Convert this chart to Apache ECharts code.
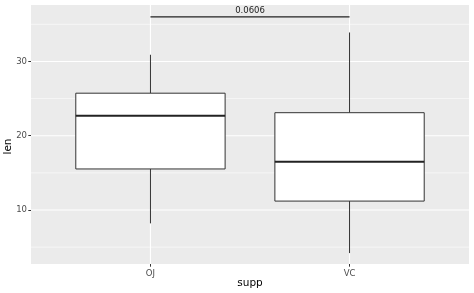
<!DOCTYPE html>
<html><head><meta charset="utf-8">
<script src="https://cdn.jsdelivr.net/npm/echarts@6/dist/echarts.min.js"></script>
<style>html,body{margin:0;padding:0;background:#fff}#c{width:474px;height:293px}</style>
</head><body><div id="c"></div>
<script>
var categories = ['OJ', 'VC'];
var whiskerLow = [8.2, 4.2];
var q1 = [15.525, 11.2];
var median = [22.7, 16.5];
var q3 = [25.725, 23.1];
var whiskerHigh = [30.9, 33.9];
var yMajorTicks = [10, 20, 30];
var yMinorTicks = [5, 15, 25, 35];
var pLabel = '0.0606';
var bracketY = 36.0;
var xTitle = 'supp';
var yTitle = 'len';

var FONT = 'DejaVu Sans';
var boxData = categories.map(function (c, i) {
  return [i + 1, whiskerLow[i], q1[i], median[i], q3[i], whiskerHigh[i]];
});
var xPositions = categories.map(function (c, i) { return i + 1; });

var chart = echarts.init(document.getElementById('c'), null, {renderer: 'canvas'});
chart.setOption({
  animation: false,
  grid: {left: 31, top: 5, right: 5, bottom: 29, show: true, backgroundColor: '#EBEBEB', borderWidth: 0,
    containLabel: false, outerBoundsMode: 'none'},
  graphic: [{
    type: 'text', left: 3, top: 'middle', rotation: Math.PI / 2,
    style: {text: yTitle, fontFamily: FONT, fontSize: 10.5, fill: '#000'}
  }, {
    type: 'text', x: 250, y: 283,
    style: {text: xTitle, fontFamily: FONT, fontSize: 10.5, fill: '#000', align: 'center', verticalAlign: 'middle'}
  }],
  xAxis: {
    type: 'value', min: 0.4, max: 2.6,
    axisLine: {show: false},
    axisTick: {show: true, length: 2.7, lineStyle: {color: '#333', width: 1}, customValues: xPositions},
    axisLabel: {customValues: xPositions, fontFamily: FONT, fontSize: 8.5, color: '#4D4D4D', margin: 5,
      formatter: function (v) { return categories[Math.round(v) - 1] || ''; }},
    splitLine: {show: false}
  },
  yAxis: {
    type: 'value', min: 2.73, max: 37.6,
    axisLine: {show: false},
    axisTick: {show: true, length: 2.7, lineStyle: {color: '#333', width: 1}, customValues: yMajorTicks},
    axisLabel: {customValues: yMajorTicks, fontFamily: FONT, fontSize: 8.5, color: '#4D4D4D', margin: 4},
    splitLine: {show: false}
  },
  series: [
    {
      type: 'custom', silent: true, z: 1,
      data: [0],
      renderItem: function (params, api) {
        var ch = [];
        var xs = api.coord([0.4, 0])[0], xe = api.coord([2.6, 0])[0];
        var yt = api.coord([0, 37.6])[1], yb = api.coord([0, 2.73])[1];
        yMinorTicks.forEach(function (v) {
          var y = api.coord([0, v])[1];
          ch.push({type: 'line', shape: {x1: xs, y1: y, x2: xe, y2: y}, style: {stroke: '#fff', lineWidth: 0.55}});
        });
        yMajorTicks.forEach(function (v) {
          var y = api.coord([0, v])[1];
          ch.push({type: 'line', shape: {x1: xs, y1: y, x2: xe, y2: y}, style: {stroke: '#fff', lineWidth: 1.1}});
        });
        xPositions.forEach(function (v) {
          var x = api.coord([v, 0])[0];
          ch.push({type: 'line', shape: {x1: x, y1: yt, x2: x, y2: yb}, style: {stroke: '#fff', lineWidth: 1.1}});
        });
        return {type: 'group', children: ch};
      }
    },
    {
      type: 'custom', z: 2,
      data: boxData,
      encode: {x: 0, y: [1, 2, 3, 4, 5]},
      renderItem: function (params, api) {
        var x = api.value(0);
        var hw = 0.375;
        var pLow = api.coord([x, api.value(1)]);
        var pQ1 = api.coord([x, api.value(2)]);
        var pMed = api.coord([x, api.value(3)]);
        var pQ3 = api.coord([x, api.value(4)]);
        var pHigh = api.coord([x, api.value(5)]);
        var xl = api.coord([x - hw, 0])[0], xr = api.coord([x + hw, 0])[0];
        var st = {stroke: '#333333', lineWidth: 1, fill: null};
        return {type: 'group', children: [
          {type: 'line', shape: {x1: pLow[0], y1: pLow[1], x2: pQ1[0], y2: pQ1[1]}, style: st},
          {type: 'line', shape: {x1: pQ3[0], y1: pQ3[1], x2: pHigh[0], y2: pHigh[1]}, style: st},
          {type: 'rect', shape: {x: xl, y: pQ3[1], width: xr - xl, height: pQ1[1] - pQ3[1]}, style: {stroke: '#333333', lineWidth: 1, fill: '#fff'}},
          {type: 'line', shape: {x1: xl, y1: pMed[1], x2: xr, y2: pMed[1]}, style: {stroke: '#222', lineWidth: 2}}
        ]};
      }
    },
    {
      type: 'custom', z: 3, silent: true,
      data: [[1, 2, bracketY]],
      renderItem: function (params, api) {
        var a = api.coord([api.value(0), api.value(2)]);
        var b = api.coord([api.value(1), api.value(2)]);
        return {type: 'group', children: [
          {type: 'line', shape: {x1: a[0], y1: a[1], x2: b[0], y2: b[1]}, style: {stroke: '#222', lineWidth: 1.1}},
          {type: 'text', x: (a[0] + b[0]) / 2, y: a[1] - 2, style: {text: pLabel, fontFamily: FONT, fontSize: 8.5, fill: '#222', align: 'center', verticalAlign: 'bottom'}}
        ]};
      }
    }
  ]
});
</script></body></html>
